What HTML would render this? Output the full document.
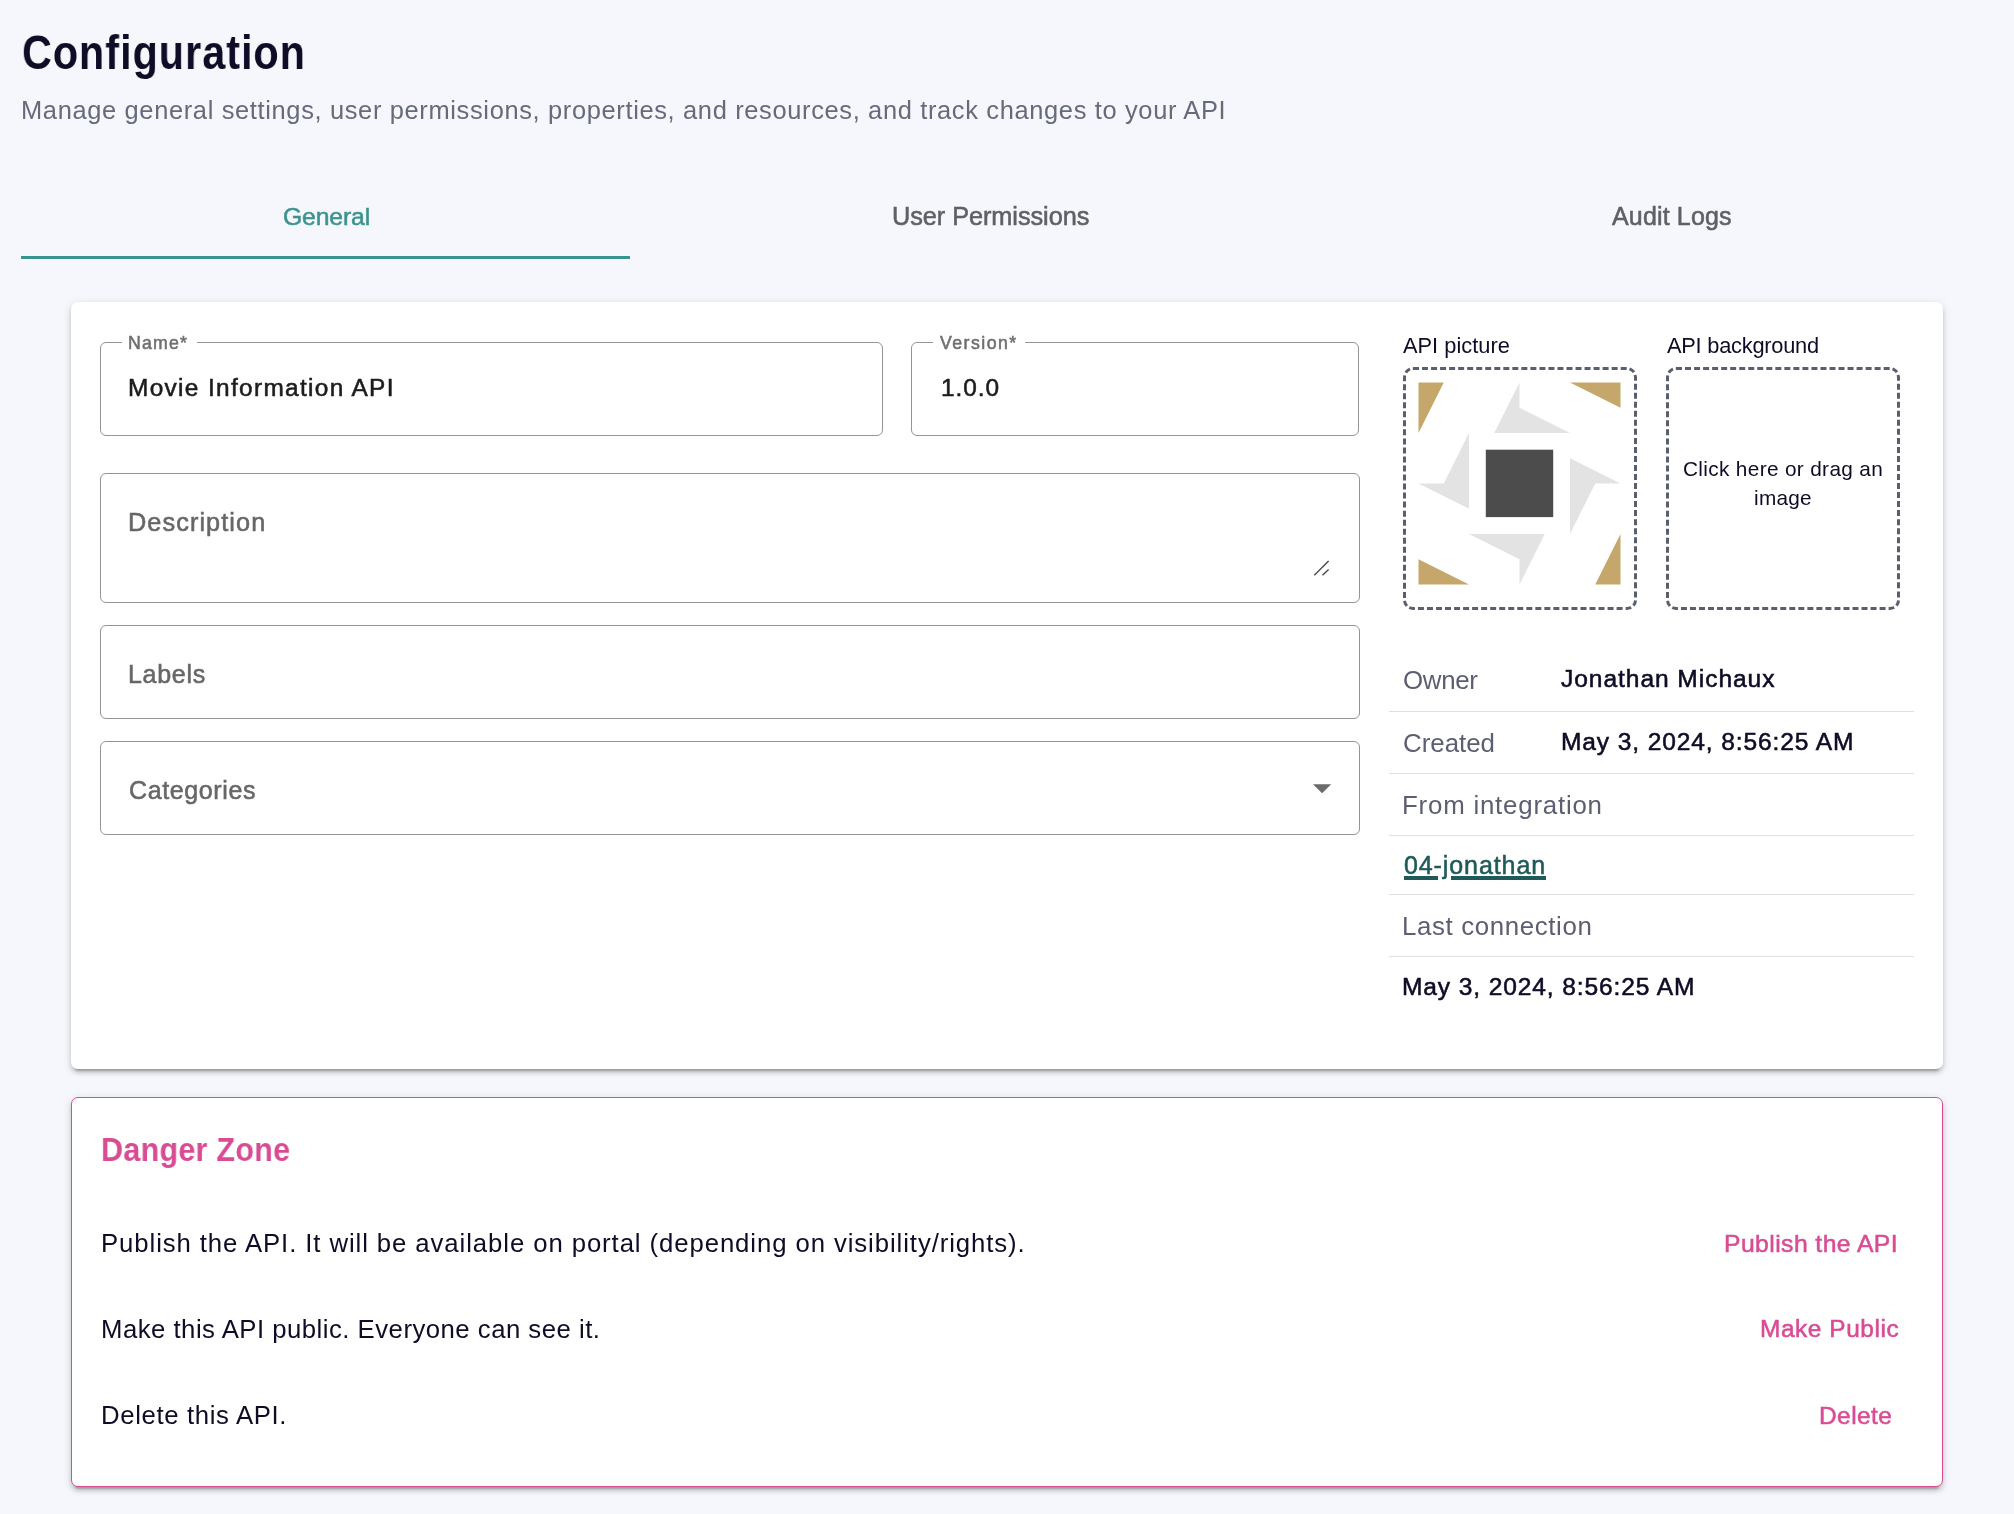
<!DOCTYPE html>
<html>
<head>
<meta charset="utf-8">
<style>
html,body{margin:0;padding:0;}
body{width:2014px;height:1514px;overflow:hidden;position:relative;background:#f6f7fc;font-family:"Liberation Sans",sans-serif;}
.t{position:absolute;white-space:nowrap;will-change:transform;}
.abs{position:absolute;box-sizing:border-box;}
.card{position:absolute;box-sizing:border-box;background:#fff;border-radius:7px;
 box-shadow:0 6px 2px -4px rgba(0,0,0,.2),0 4px 4px 0 rgba(0,0,0,.14),0 2px 10px 0 rgba(0,0,0,.12);}
.field{position:absolute;box-sizing:border-box;border:1px solid #949494;border-radius:6px;background:#fff;}
.gap{position:absolute;background:#fff;height:4px;}
.dash{position:absolute;box-sizing:border-box;top:367px;width:234px;height:243px;border:3px dashed #5b5e6f;border-radius:10px;}
.div{position:absolute;left:1389px;width:525px;height:1px;background:#e0e0e0;}
</style>
</head>
<body>
<!-- tab underline -->
<div class="abs" style="left:21px;top:256px;width:609px;height:3px;background:#3b9390;"></div>

<!-- main card -->
<div class="card" style="left:71px;top:302px;width:1872px;height:767px;"></div>

<!-- fields -->
<div class="field" style="left:100px;top:342px;width:783px;height:94px;"></div>
<div class="gap" style="left:122px;top:340px;width:75px;"></div>
<div class="field" style="left:911px;top:342px;width:448px;height:94px;"></div>
<div class="gap" style="left:933px;top:340px;width:92px;"></div>
<div class="field" style="left:100px;top:473px;width:1260px;height:130px;"></div>
<div class="field" style="left:100px;top:625px;width:1260px;height:94px;"></div>
<div class="field" style="left:100px;top:741px;width:1260px;height:94px;"></div>

<!-- resize handle -->
<svg class="abs" style="left:1300px;top:550px;" width="40" height="40" viewBox="1300 550 40 40">
 <line x1="1314.3" y1="575.3" x2="1328.6" y2="561" stroke="#444" stroke-width="1.3"/>
 <line x1="1322.5" y1="575.3" x2="1328.6" y2="569.5" stroke="#444" stroke-width="1.3"/>
</svg>
<!-- dropdown arrow -->
<svg class="abs" style="left:1300px;top:770px;" width="40" height="40" viewBox="1300 770 40 40">
 <polygon points="1313,784.3 1331.2,784.3 1322.1,793.3" fill="#6b6b6b"/>
</svg>

<!-- image boxes -->
<div class="dash" style="left:1403px;"></div>
<svg class="abs" style="left:1400px;top:364px;" width="240" height="250" viewBox="1400 364 240 250">
 
 <g transform="translate(1418.5,382.4)">
  <polygon points="0,0 25.25,0 0,50.5" fill="#c5a76c"/>
  <polygon points="151.5,0 202,0 202,25.25" fill="#c5a76c"/>
  <polygon points="202,151.5 202,202 176.75,202" fill="#c5a76c"/>
  <polygon points="0,176.75 0,202 50.5,202" fill="#c5a76c"/>
  <polygon points="101,0 101,25.25 151.5,50.5 75.75,50.5" fill="#e3e3e3"/>
  <polygon points="151.5,75.75 202,101 176.75,101 151.5,151.5" fill="#e3e3e3"/>
  <polygon points="50.5,151.5 126.25,151.5 101,202 101,176.75" fill="#e3e3e3"/>
  <polygon points="50.5,50.5 50.5,126.25 0,101 25.25,101" fill="#e3e3e3"/>
  <rect x="67.3" y="67.3" width="67.4" height="67.4" fill="#4c4c4c"/>
 </g>
</svg>
<div class="dash" style="left:1666px;"></div>

<!-- dividers -->
<div class="div" style="top:711px;"></div>
<div class="div" style="top:773px;"></div>
<div class="div" style="top:835px;"></div>
<div class="div" style="top:894px;"></div>
<div class="div" style="top:956px;"></div>

<!-- danger card -->
<div class="card" style="left:71px;top:1097px;width:1872px;height:390px;border:1.5px solid #d94c94;"></div>

<div class="t" id="title" style="left:21.63px;top:22.77px;font-size:47.38px;line-height:60px;letter-spacing:1.225px;font-weight:bold;color:#0e0c26;transform:scaleX(0.87);transform-origin:0 0;">Configuration</div>
<div class="t" id="subtitle" style="left:20.50px;top:93.78px;font-size:25.44px;line-height:32px;letter-spacing:0.649px;font-weight:normal;color:#666a7b;">Manage general settings, user permissions, properties, and resources, and track changes to your API</div>
<div class="t" id="tab1" style="left:282.60px;top:200.93px;font-size:24.71px;line-height:31px;letter-spacing:-0.116px;font-weight:normal;color:#3b9390;-webkit-text-stroke:0.55px currentColor;">General</div>
<div class="t" id="tab2" style="left:891.90px;top:200.43px;font-size:25.29px;line-height:32px;letter-spacing:-0.049px;font-weight:normal;color:#5e6065;-webkit-text-stroke:0.55px currentColor;">User Permissions</div>
<div class="t" id="tab3" style="left:1612.10px;top:199.83px;font-size:25.0px;line-height:32px;letter-spacing:0.151px;font-weight:normal;color:#5e6065;-webkit-text-stroke:0.55px currentColor;">Audit Logs</div>
<div class="t" id="lblname" style="left:128.20px;top:332.05px;font-size:17.73px;line-height:23px;letter-spacing:1.184px;font-weight:normal;color:#6f6f6f;-webkit-text-stroke:0.55px currentColor;">Name*</div>
<div class="t" id="lblver" style="left:939.70px;top:332.05px;font-size:17.73px;line-height:23px;letter-spacing:1.457px;font-weight:normal;color:#6f6f6f;-webkit-text-stroke:0.55px currentColor;">Version*</div>
<div class="t" id="valname" style="left:128.30px;top:372.03px;font-size:24.42px;line-height:31px;letter-spacing:1.334px;font-weight:normal;color:#1c1c1c;-webkit-text-stroke:0.55px currentColor;">Movie Information API</div>
<div class="t" id="valver" style="left:940.70px;top:371.83px;font-size:24.42px;line-height:31px;letter-spacing:0.973px;font-weight:normal;color:#1c1c1c;-webkit-text-stroke:0.55px currentColor;">1.0.0</div>
<div class="t" id="desc" style="left:127.90px;top:506.03px;font-size:25.29px;line-height:32px;letter-spacing:1.08px;font-weight:normal;color:#676767;-webkit-text-stroke:0.55px currentColor;">Description</div>
<div class="t" id="labels" style="left:127.60px;top:658.23px;font-size:25.0px;line-height:32px;letter-spacing:0.706px;font-weight:normal;color:#676767;-webkit-text-stroke:0.55px currentColor;">Labels</div>
<div class="t" id="cats" style="left:128.60px;top:773.83px;font-size:25.0px;line-height:32px;letter-spacing:0.611px;font-weight:normal;color:#676767;-webkit-text-stroke:0.55px currentColor;">Categories</div>
<div class="t" id="apipic" style="left:1403.30px;top:332.24px;font-size:21.8px;line-height:28px;letter-spacing:0.021px;font-weight:normal;color:#0e0c26;">API picture</div>
<div class="t" id="apibg" style="left:1666.70px;top:331.74px;font-size:21.8px;line-height:28px;letter-spacing:-0.229px;font-weight:normal;color:#0e0c26;">API background</div>
<div class="t" id="click" style="left:1682.80px;top:455.50px;font-size:20.78px;line-height:26px;letter-spacing:0.35px;font-weight:normal;color:#0e0c26;">Click here or drag an</div>
<div class="t" id="image" style="left:1753.80px;top:484.75px;font-size:20.78px;line-height:26px;letter-spacing:0.273px;font-weight:normal;color:#0e0c26;">image</div>
<div class="t" id="owner" style="left:1403.10px;top:663.63px;font-size:25.87px;line-height:33px;letter-spacing:-0.313px;font-weight:normal;color:#5c5e72;">Owner</div>
<div class="t" id="created" style="left:1403.10px;top:727.03px;font-size:25.87px;line-height:33px;letter-spacing:-0.003px;font-weight:normal;color:#5c5e72;">Created</div>
<div class="t" id="fromint" style="left:1402.40px;top:789.23px;font-size:25.87px;line-height:33px;letter-spacing:0.78px;font-weight:normal;color:#5c5e72;">From integration</div>
<div class="t" id="lastconn" style="left:1402.40px;top:910.43px;font-size:25.87px;line-height:33px;letter-spacing:0.617px;font-weight:normal;color:#5c5e72;">Last connection</div>
<div class="t" id="jm" style="left:1561.40px;top:663.19px;font-size:24.56px;line-height:31px;letter-spacing:0.95px;font-weight:normal;color:#0e0c26;-webkit-text-stroke:0.55px currentColor;">Jonathan Michaux</div>
<div class="t" id="date1" style="left:1560.50px;top:726.19px;font-size:24.56px;line-height:31px;letter-spacing:0.885px;font-weight:normal;color:#0e0c26;-webkit-text-stroke:0.55px currentColor;">May 3, 2024, 8:56:25 AM</div>
<div class="t" id="link" style="left:1403.70px;top:849.43px;font-size:25.0px;line-height:32px;letter-spacing:0.905px;font-weight:normal;color:#1f5a58;-webkit-text-stroke:0.55px currentColor;text-decoration:underline;text-decoration-thickness:3.7px;text-underline-offset:2.3px;">04-jonathan</div>
<div class="t" id="date2" style="left:1402.40px;top:971.29px;font-size:24.56px;line-height:31px;letter-spacing:0.885px;font-weight:normal;color:#0e0c26;-webkit-text-stroke:0.55px currentColor;">May 3, 2024, 8:56:25 AM</div>
<div class="t" id="danger" style="left:100.80px;top:1127.96px;font-size:33.87px;line-height:43px;letter-spacing:0.322px;font-weight:bold;color:#d94c94;transform:scaleX(0.9);transform-origin:0 0;">Danger Zone</div>
<div class="t" id="pub" style="left:100.70px;top:1227.33px;font-size:25.73px;line-height:33px;letter-spacing:0.914px;font-weight:normal;color:#0e0c26;">Publish the API. It will be available on portal (depending on visibility/rights).</div>
<div class="t" id="make" style="left:100.70px;top:1312.58px;font-size:25.73px;line-height:33px;letter-spacing:0.488px;font-weight:normal;color:#0e0c26;">Make this API public. Everyone can see it.</div>
<div class="t" id="del" style="left:100.70px;top:1399.33px;font-size:25.73px;line-height:33px;letter-spacing:0.639px;font-weight:normal;color:#0e0c26;">Delete this API.</div>
<div class="t" id="bpub" style="left:1724.40px;top:1228.33px;font-size:24.71px;line-height:31px;letter-spacing:0.433px;font-weight:normal;color:#d94c94;-webkit-text-stroke:0.55px currentColor;">Publish the API</div>
<div class="t" id="bmake" style="left:1759.90px;top:1313.03px;font-size:24.42px;line-height:31px;letter-spacing:0.577px;font-weight:normal;color:#d94c94;-webkit-text-stroke:0.55px currentColor;">Make Public</div>
<div class="t" id="bdel" style="left:1818.70px;top:1399.83px;font-size:24.42px;line-height:31px;letter-spacing:0.465px;font-weight:normal;color:#d94c94;-webkit-text-stroke:0.55px currentColor;">Delete</div>
</body>
</html>
